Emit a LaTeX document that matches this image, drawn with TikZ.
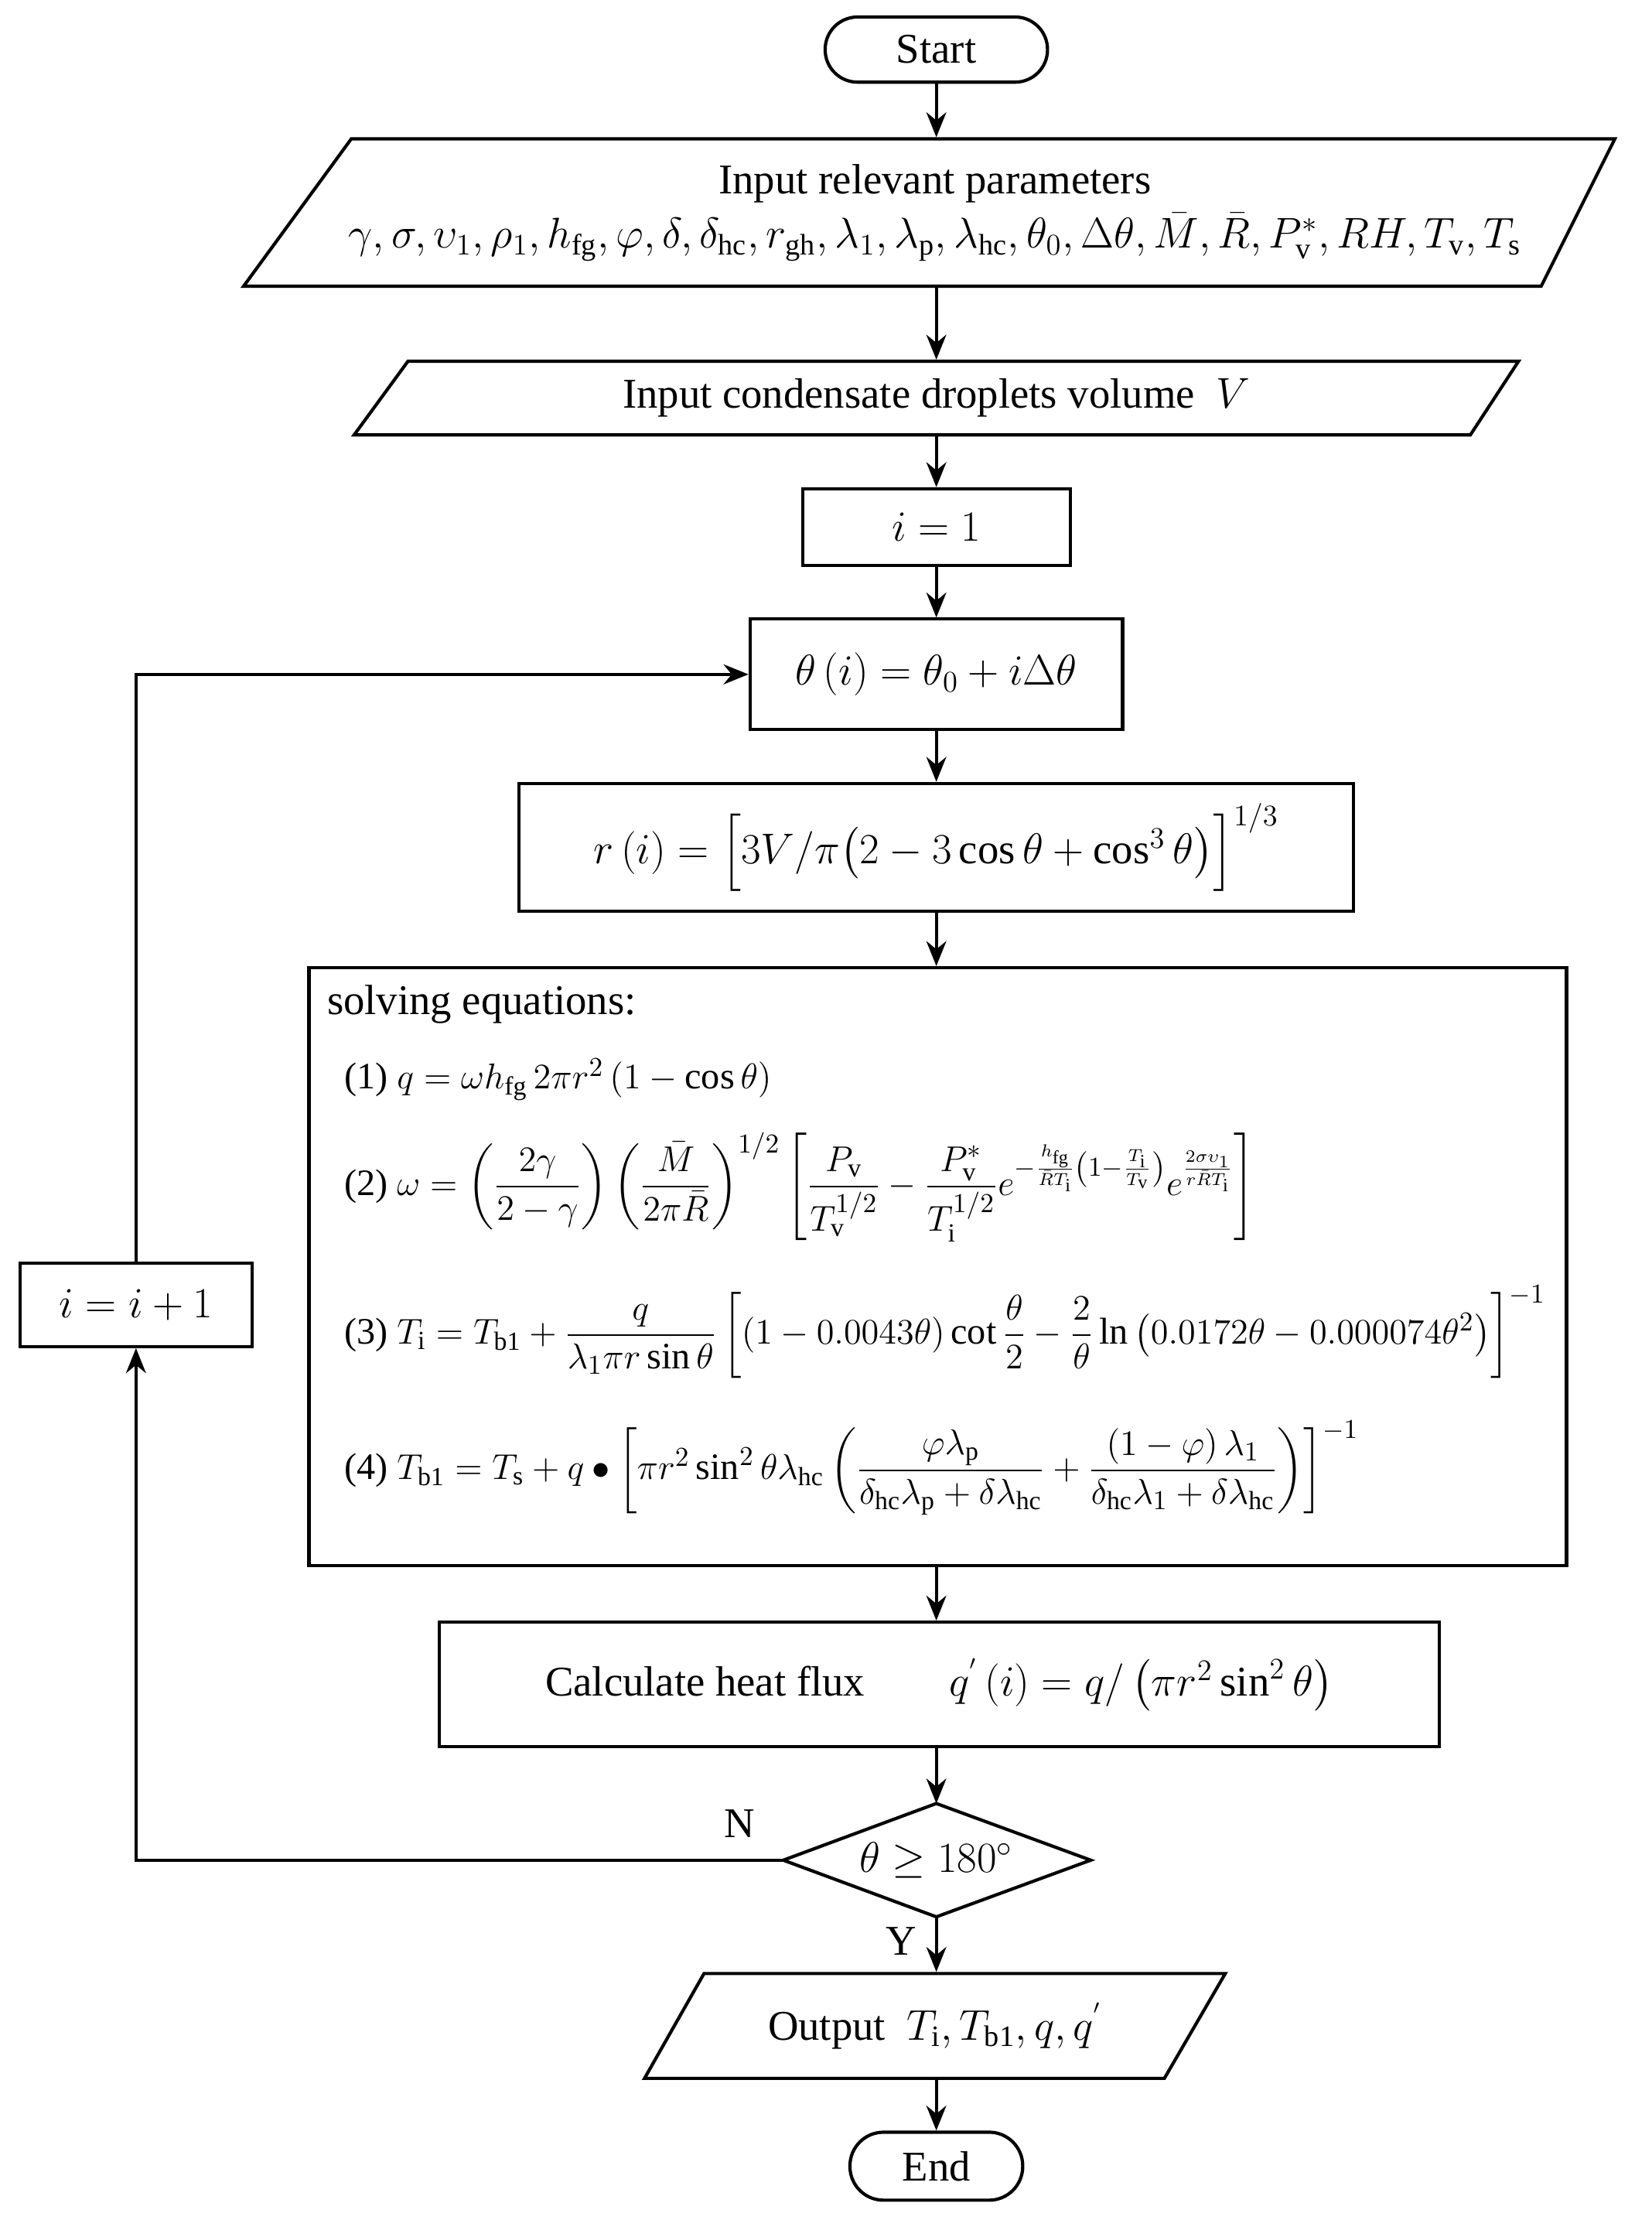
\documentclass[tikz,border=0pt]{standalone}
\usepackage{amsmath}
\usepackage{fontspec}
\setmainfont{Liberation Serif}
\usetikzlibrary{arrows.meta}
\begin{document}
\begin{tikzpicture}[x=0.02cm,y=-0.02cm,
  line width=1.3pt,
  flow/.style={-{Stealth[length=10pt,width=8pt]}},
  lbl/.style={font=\fontsize{17}{20}\selectfont},
  box/.style={draw,lbl,inner sep=0pt},
  anchorbox/.style={inner sep=0pt,lbl}]
\useasboundingbox (0,0) rectangle (1166,1567);
% Start
\node[box,rounded corners=13pt,minimum width=3.14cm,minimum height=0.92cm] (start) at (661,35) {Start};
% parameters parallelogram
\draw (248,98) -- (1140,98) -- (1088,202) -- (172,202) -- cycle;
\node[anchorbox,minimum width=15cm,minimum height=2.08cm] (par) at (661,150) {};
\node[lbl,align=center] at (660,150) {Input relevant parameters\\[2pt]
$\gamma,\sigma,\upsilon_1,\rho_1,h_{\mathrm{fg}},\varphi,\delta,\delta_{\mathrm{hc}},r_{\mathrm{gh}},\lambda_1,\lambda_{\mathrm{p}},\lambda_{\mathrm{hc}},\theta_0,\Delta\theta,\bar{M},\bar{R},P_{\mathrm{v}}^{*},RH,T_{\mathrm{v}},T_{\mathrm{s}}$};
% volume
\draw (288,255) -- (1072,255) -- (1038,307) -- (250,307) -- cycle;
\node[anchorbox,minimum width=12cm,minimum height=1.04cm] (vol) at (661,281) {};
\node[lbl] at (661,281) {Input condensate droplets volume\enspace $V$};
% i=1
\node[box,minimum width=3.78cm,minimum height=1.08cm] (i1) at (661,372) {$i=1$};
% theta
\node[box,minimum width=5.26cm,minimum height=1.56cm] (th) at (661,476) {$\theta\left(i\right)=\theta_0+i\Delta\theta$};
% r(i)
\node[box,minimum width=11.78cm,minimum height=1.8cm] (r) at (661,598) {$r\left(i\right)=\Bigl[3V/\pi\bigl(2-3\cos\theta+\cos^3\theta\bigr)\Bigr]^{1/3}$};
% solving
\node[draw,inner sep=0pt,minimum width=17.76cm,minimum height=8.44cm] (sol) at (662,894) {};
\node[lbl,anchor=west] at (224,709) {solving equations:};
\begin{scope}[every node/.style={anchor=west,font=\fontsize{15}{18}\selectfont}]
\node at (236,762) {(1) $q=\omega h_{\mathrm{fg}}\,2\pi r^2\left(1-\cos\theta\right)$};
\node at (236,838) {(2) $\omega=\left(\dfrac{2\gamma}{2-\gamma}\right)\left(\dfrac{\bar M}{2\pi\bar R}\right)^{1/2}\left[\dfrac{P_{\mathrm v}}{T_{\mathrm v}^{1/2}}-\dfrac{P_{\mathrm v}^{*}}{T_{\mathrm i}^{1/2}}e^{-\frac{h_{\mathrm{fg}}}{\bar RT_{\mathrm i}}\left(1-\frac{T_{\mathrm i}}{T_{\mathrm v}}\right)}e^{\frac{2\sigma\upsilon_1}{r\bar RT_{\mathrm i}}}\right]$};
\node at (236,940) {(3) $T_{\mathrm i}=T_{\mathrm{b1}}+\dfrac{q}{\lambda_1\pi r\sin\theta}\left[\left(1-0.0043\theta\right)\cot\dfrac{\theta}{2}-\dfrac{2}{\theta}\ln\left(0.0172\theta-0.000074\theta^2\right)\right]^{-1}$};
\node at (236,1036) {(4) $T_{\mathrm{b1}}=T_{\mathrm s}+q\bullet\left[\pi r^2\sin^2\theta\lambda_{\mathrm{hc}}\left(\dfrac{\varphi\lambda_{\mathrm p}}{\delta_{\mathrm{hc}}\lambda_{\mathrm p}+\delta\lambda_{\mathrm{hc}}}+\dfrac{\left(1-\varphi\right)\lambda_1}{\delta_{\mathrm{hc}}\lambda_1+\delta\lambda_{\mathrm{hc}}}\right)\right]^{-1}$};
\end{scope}
% heat flux
\node[draw,inner sep=0pt,minimum width=14.12cm,minimum height=1.76cm] (hf) at (663,1189) {};
\node[lbl] at (663,1189) {Calculate heat flux\qquad $q^{'}\left(i\right)=q/\left(\pi r^2\sin^2\theta\right)$};
% diamond
\draw (553,1313) -- (661,1273) -- (770,1313) -- (661,1353) -- cycle;
\coordinate (dl) at (553,1313);
\coordinate (dt) at (661,1273);
\coordinate (db) at (661,1353);
\node[lbl] (dia) at (661,1313) {$\theta\geq180^{\circ}$};
% output
\draw (497,1393) -- (865,1393) -- (822,1467) -- (455,1467) -- cycle;
\node[anchorbox,minimum width=7.4cm,minimum height=1.48cm] (out) at (661,1430) {};
\node[lbl] at (660,1430) {Output\enspace $T_{\mathrm i},T_{\mathrm{b1}},q,q^{'}$};
% end
\node[box,rounded corners=13.5pt,minimum width=2.44cm,minimum height=0.96cm] (end) at (661,1529) {End};
% i=i+1
\node[box,minimum width=3.28cm,minimum height=1.18cm] (inc) at (96,921) {$i=i+1$};
% arrows
\draw[flow] (start) -- (par);
\draw[flow] (par) -- (vol);
\draw[flow] (vol) -- (i1);
\draw[flow] (i1) -- (th);
\draw[flow] (th) -- (r);
\draw[flow] (r.south) -- (r.south|-sol.north);
\draw[flow] (sol.south-|r.south) -- (r.south|-hf.north);
\draw[flow] (hf.south-|r.south) -- (dt);
\draw[flow] (db) -- (out);
\draw[flow] (out) -- (end);
\draw[flow] (dl) -| (inc.south);
\draw[flow] (inc.north) |- (th.west);
\node[lbl] at (522,1287) {N};
\node[lbl] at (636,1370) {Y};
\end{tikzpicture}
\end{document}
